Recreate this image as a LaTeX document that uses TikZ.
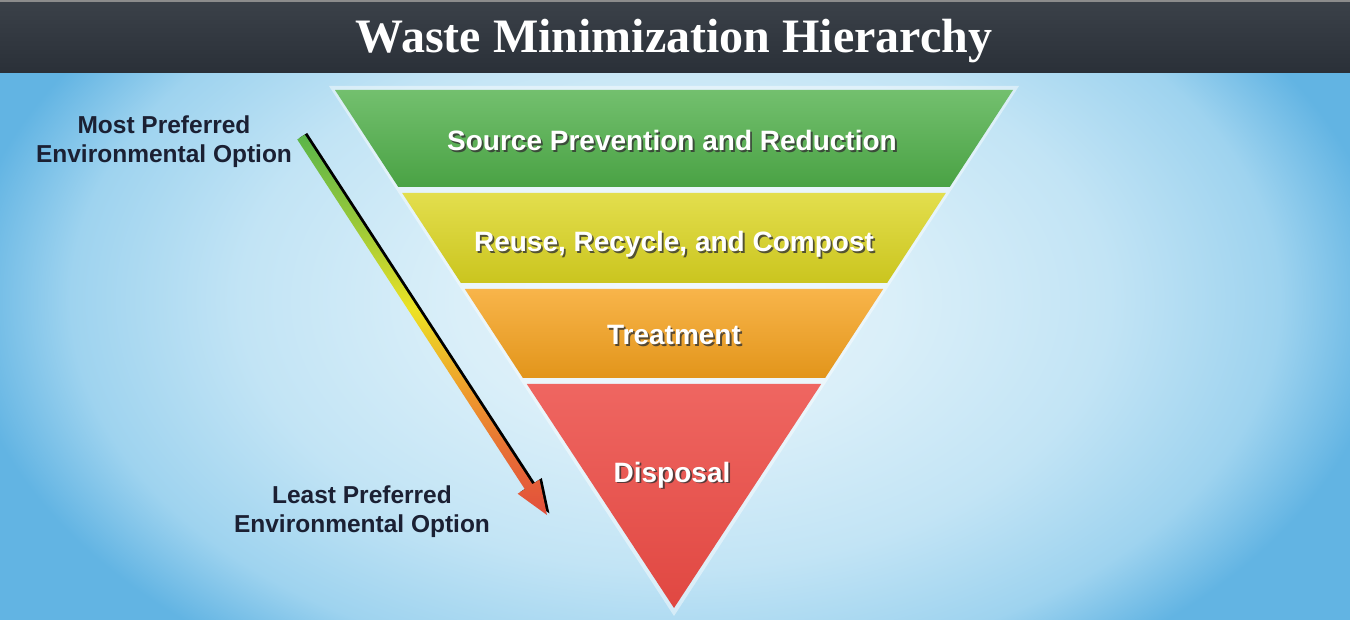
\documentclass[tikz,border=0pt]{standalone}
\usepackage{fontspec}
\setmainfont{Liberation Serif}
\newfontfamily\labelfont{Liberation Sans}
\usetikzlibrary{calc}

\definecolor{skyin}{HTML}{E6F4FB}
\definecolor{skysoft}{HTML}{DAEFF9}
\definecolor{skymid}{HTML}{C2E4F5}
\definecolor{skydeep}{HTML}{9ED3EF}
\definecolor{skyout}{HTML}{62B4E3}
\definecolor{bardark}{HTML}{2A3038}
\definecolor{barlight}{HTML}{3B4149}
\definecolor{greenband}{HTML}{50B04A}
\definecolor{yellowband}{HTML}{DCD621}
\definecolor{orangeband}{HTML}{F6A21D}
\definecolor{redband}{HTML}{EC4B45}
\definecolor{navytext}{HTML}{1B2033}
\definecolor{arrowgreen}{HTML}{5AB54A}
\definecolor{arrowyellow}{HTML}{EDE224}
\definecolor{arroworange}{HTML}{EE9A2C}
\definecolor{arrowred}{HTML}{E24F3C}

\pgfdeclareradialshading{sky}{\pgfpoint{0bp}{0bp}}{color(0bp)=(skyin); color(7bp)=(skysoft); color(14bp)=(skymid); color(19.5bp)=(skydeep); color(23bp)=(skyout); color(100bp)=(skyout)}
\pgfdeclareverticalshading{arrowshade}{100bp}{color(0bp)=(arrowred); color(25bp)=(arrowred); color(33bp)=(arrowred!60!arroworange); color(41bp)=(arroworange); color(52bp)=(arrowyellow); color(64bp)=(arrowyellow!40!arrowgreen); color(75bp)=(arrowgreen); color(100bp)=(arrowgreen)}

\begin{document}
\begin{tikzpicture}[x=1pt,y=-1pt]
% Estilos
\tikzset{
  bandtext/.style={font=\labelfont\fontsize{28}{28}\selectfont\bfseries, text=white, anchor=base, inner sep=0pt},
  bandshadow/.style={bandtext, text=black!80, opacity=0.8, xshift=1.8pt, yshift=-1.8pt},
  sidetext/.style={font=\labelfont\fontsize{24.5}{29}\selectfont\bfseries, text=navytext, align=center, inner sep=0pt},
  band/.style={draw=none}
}
\useasboundingbox (0,0) rectangle (1350,620);

% Fundo
\begin{scope}
  \clip (0,73) rectangle (1350,620);
  \shade[shading=sky] (-100,-180) rectangle (1450,780);
\end{scope}

% Faixa do titulo
\shade[top color=barlight, bottom color=bardark] (0,0) rectangle (1350,73);
\fill[black!45] (0,0) rectangle (1350,2);
\node[font=\fontsize{48}{48}\selectfont\bfseries, text=white, anchor=base, inner sep=0pt] (title) at (674,53) {Waste Minimization Hierarchy};

% Piramide invertida
\fill[white, opacity=0.45] (329,86) -- (1019,86) -- (674,616) -- cycle;
\shade[band, top color=greenband!80!white, bottom color=greenband!92!black] (335,90) -- (1013,90) -- (949.7,187) -- (398.3,187) -- cycle;
\shade[band, top color=yellowband!80!white, bottom color=yellowband!92!black] (402.2,193) -- (945.8,193) -- (887.1,283) -- (460.9,283) -- cycle;
\shade[band, top color=orangeband!80!white, bottom color=orangeband!92!black] (464.8,289) -- (883.2,289) -- (825.1,378) -- (522.9,378) -- cycle;
\shade[band, top color=redband!85!white, bottom color=redband!95!black] (526.8,384) -- (821.2,384) -- (674,608) -- cycle;

% Textos das faixas
\node[bandshadow] (source_shadow) at (672,151) {Source Prevention and Reduction};
\node[bandtext] (source_text) at (672,151) {Source Prevention and Reduction};
\node[bandshadow] (reuse_shadow) at (674,251.5) {Reuse, Recycle, and Compost};
\node[bandtext] (reuse_text) at (674,251.5) {Reuse, Recycle, and Compost};
\node[bandshadow] (treatment_shadow) at (674,345) {Treatment};
\node[bandtext] (treatment_text) at (674,345) {Treatment};
\node[bandshadow] (disposal_shadow) at (672,482) {Disposal};
\node[bandtext] (disposal_text) at (672,482) {Disposal};

% Rotulos laterais
\node[sidetext] (most_label) at (164,142) {Most Preferred\\Environmental Option};
\node[sidetext] (least_label) at (362,511.5) {Least Preferred\\Environmental Option};

% Seta de preferencia
\coordinate (arrow_start) at (301,137);
\coordinate (arrow_end) at (547,515);
\coordinate (arrow_head) at ($(arrow_start)!0.925!(arrow_end)$);
\begin{scope}[transform canvas={shift={(2.4,-1.6)}}]
  \fill[black] ($(arrow_start)!4.5pt!90:(arrow_end)$) -- ($(arrow_head)!4.5pt!90:(arrow_end)$) -- ($(arrow_head)!13pt!90:(arrow_end)$) -- (arrow_end) -- ($(arrow_head)!13pt!-90:(arrow_end)$) -- ($(arrow_head)!4.5pt!-90:(arrow_end)$) -- ($(arrow_start)!4.5pt!-90:(arrow_end)$) -- cycle;
\end{scope}
\shade[shading=arrowshade] ($(arrow_start)!4.5pt!90:(arrow_end)$) -- ($(arrow_head)!4.5pt!90:(arrow_end)$) -- ($(arrow_head)!13pt!90:(arrow_end)$) -- (arrow_end) -- ($(arrow_head)!13pt!-90:(arrow_end)$) -- ($(arrow_head)!4.5pt!-90:(arrow_end)$) -- ($(arrow_start)!4.5pt!-90:(arrow_end)$) -- cycle;

\end{tikzpicture}
\end{document}
